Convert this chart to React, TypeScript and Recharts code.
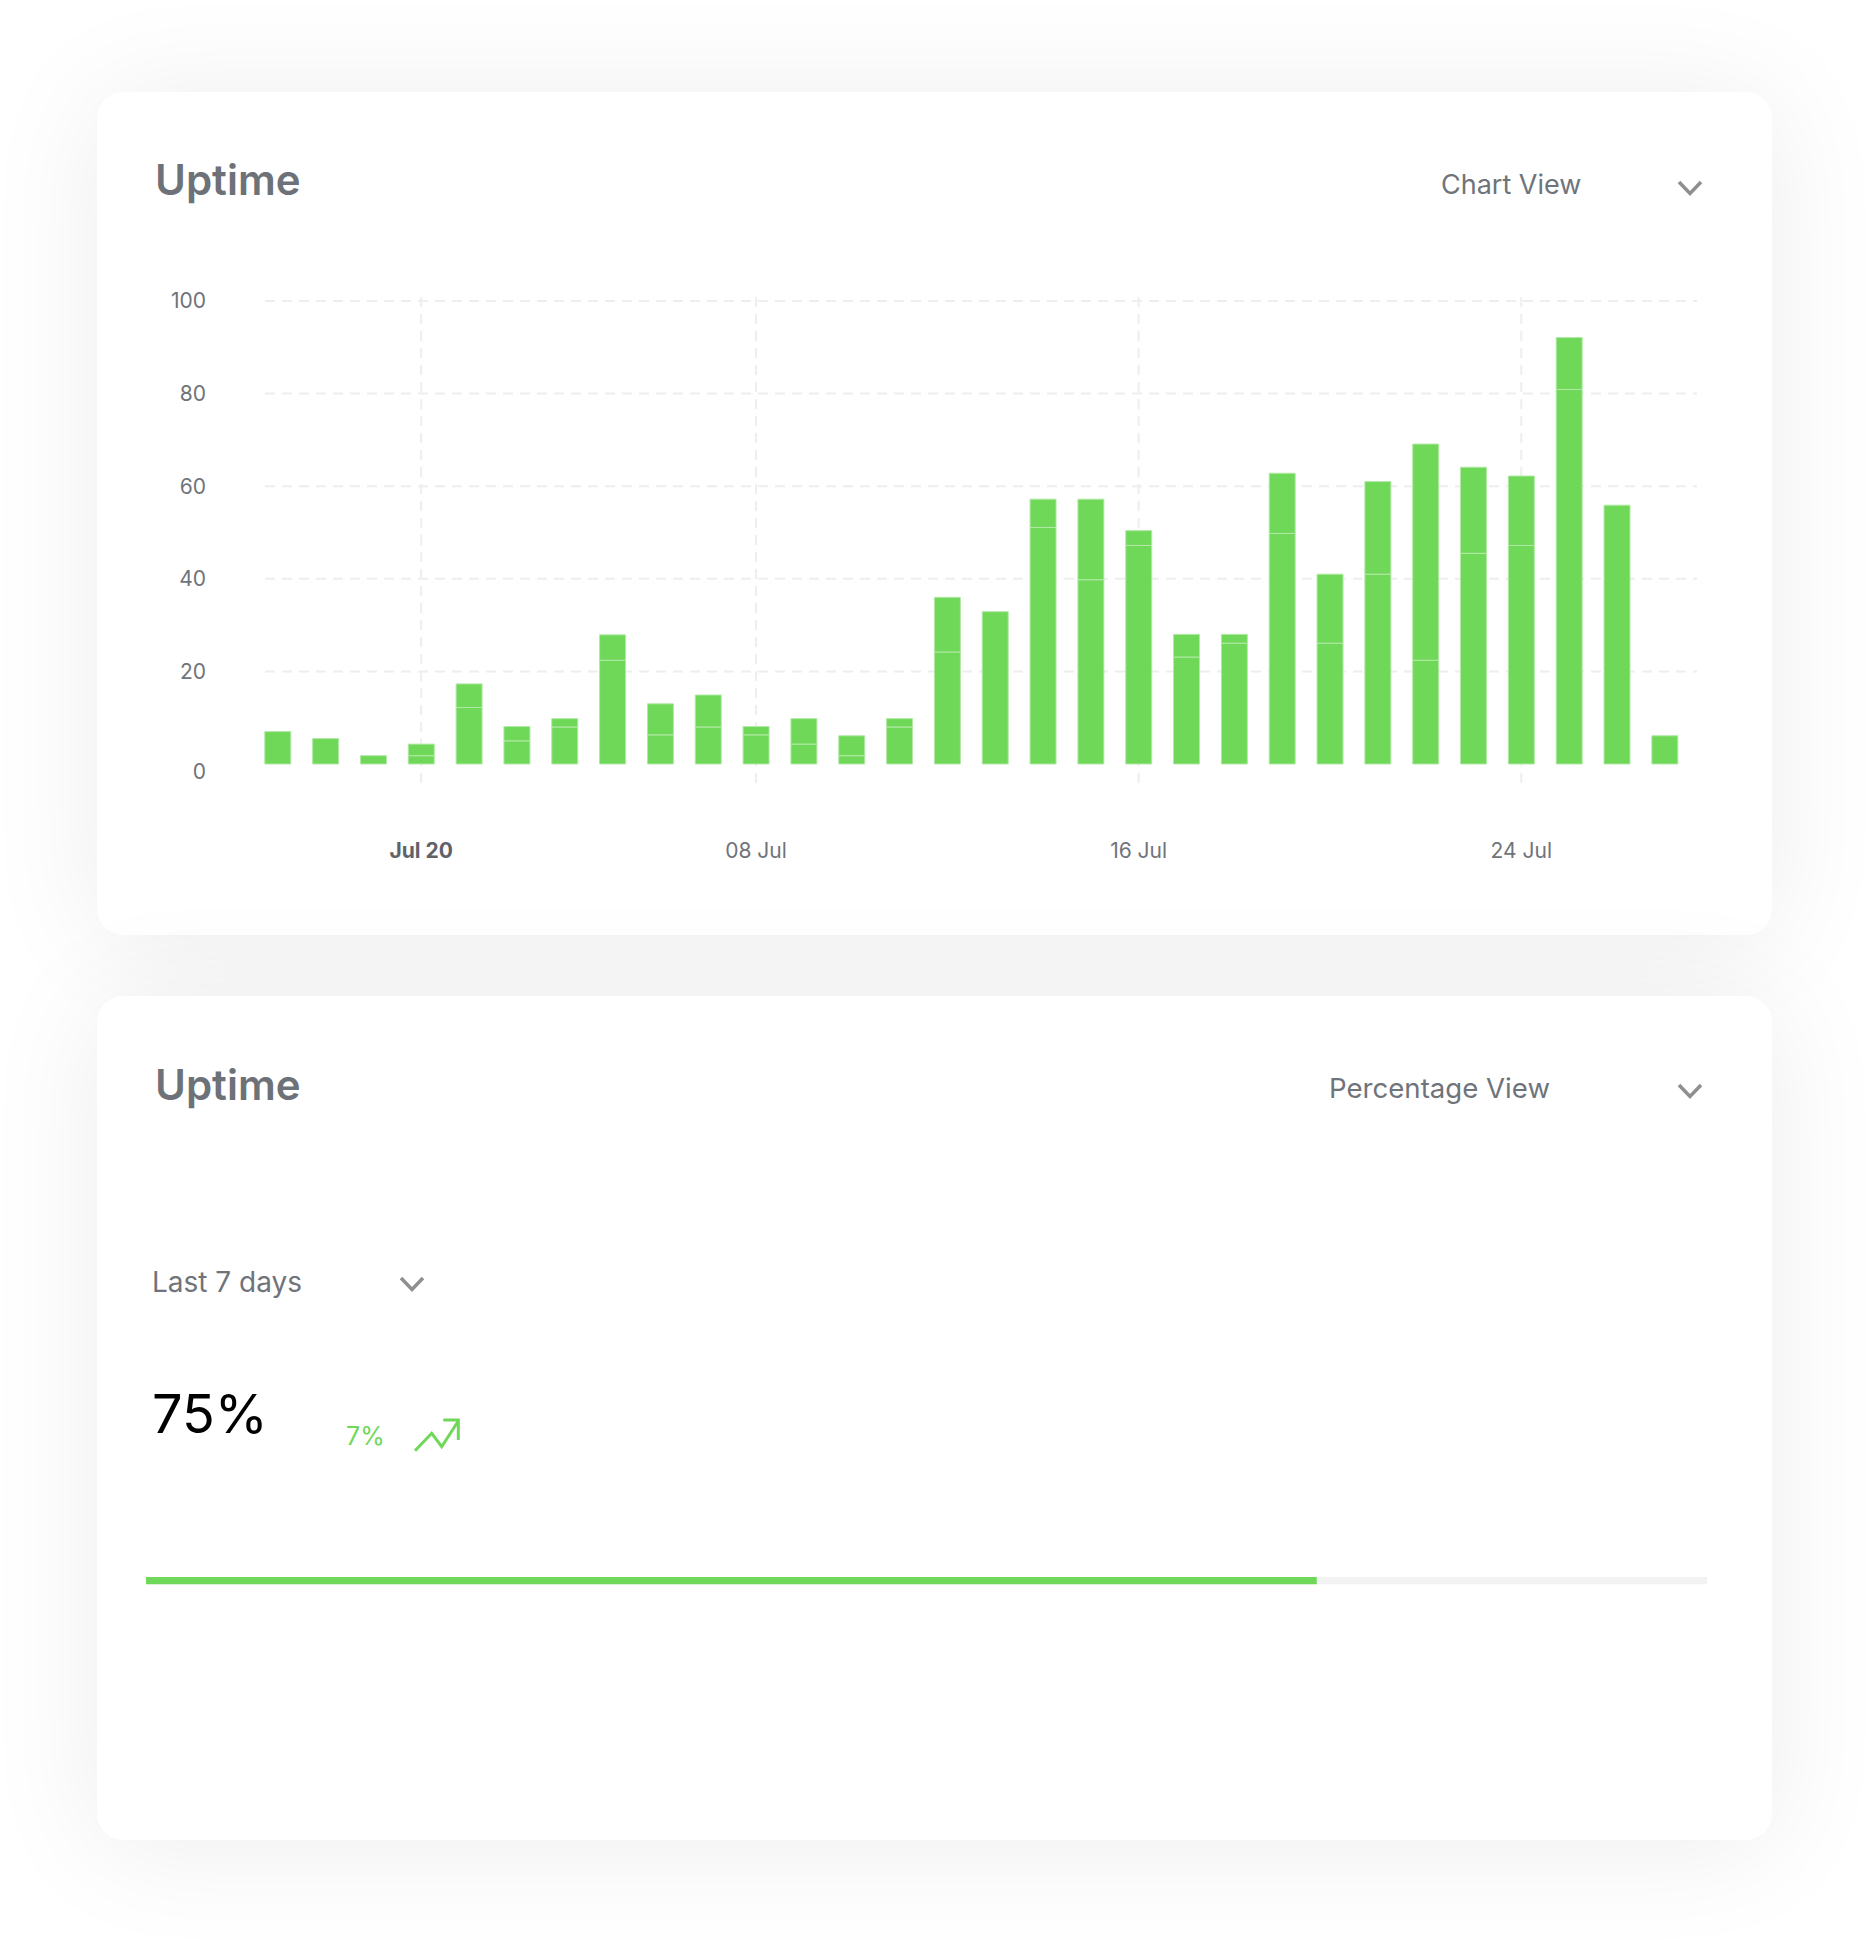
import React from "react";
import { BarChart, Bar, XAxis, YAxis, CartesianGrid } from "recharts";

// one bar per day, 28 Jun .. 27 Jul
const days = [
  "28 Jun", "29 Jun", "30 Jun", "01 Jul", "02 Jul", "03 Jul", "04 Jul", "05 Jul", "06 Jul", "07 Jul",
  "08 Jul", "09 Jul", "10 Jul", "11 Jul", "12 Jul", "13 Jul", "14 Jul", "15 Jul", "16 Jul", "17 Jul",
  "18 Jul", "19 Jul", "20 Jul", "21 Jul", "22 Jul", "23 Jul", "24 Jul", "25 Jul", "26 Jul", "27 Jul",
];
// each bar is two stacked segments
const lowerSegment = [
  7, 5.5, 1.8, 1.8, 12.2, 5, 8, 22.4, 6.3, 8,
  6.3, 4.3, 1.8, 8, 24.2, 32.9, 51.1, 39.8, 47.2, 23.1,
  26.1, 49.8, 26.1, 41, 22.4, 45.5, 47.2, 80.9, 55.9, 6.1,
];
const upperSegment = [
  0, 0, 0, 2.5, 5.1, 3.1, 1.8, 5.5, 6.7, 6.9,
  1.8, 5.5, 4.3, 1.8, 11.8, 0, 6.1, 17.4, 3.2, 4.9,
  1.9, 13, 14.9, 20, 46.7, 18.6, 15, 11.2, 0, 0,
];
const xTickDays = ["01 Jul", "08 Jul", "16 Jul", "24 Jul"];
const xTickLabels = ["Jul 20", "08 Jul", "16 Jul", "24 Jul"];
const yTicks = [0, 20, 40, 60, 80, 100];
const yGridValues = [20, 40, 60, 80, 100];

const uptimePercent = 75;
const uptimeChange = "7%";

const GREEN = "#6fd859";
const GRAY_TEXT = "#6d7178";
const FONT = "Inter, 'Noto Sans', sans-serif";

const chartData = days.map((d, i) => ({
  pos: i + 1,
  day: d,
  lower: lowerSegment[i],
  upper: upperSegment[i],
}));
const xTicks = xTickDays.map((d) => days.indexOf(d) + 1);

const progressData = [{ name: "uptime", value: uptimePercent }];

const YTick = ({ x, y, payload }: any) => (
  <text
    x={x}
    y={y + (payload.value === 0 ? 8 : 0)}
    dy="0.355em"
    textAnchor="end"
    fill="#6f737a"
    fontSize={21}
    fontFamily={FONT}
  >
    {payload.value}
  </text>
);

const XTick = ({ x, y, payload }: any) => {
  const idx = xTicks.indexOf(payload.value);
  const first = idx === 0;
  return (
    <text
      x={x}
      y={y}
      dy="0.71em"
      textAnchor="middle"
      fill={first ? "#5e6269" : "#6f737a"}
      fontWeight={first ? 700 : 400}
      fontSize={21}
      fontFamily={FONT}
    >
      {xTickLabels[idx]}
    </text>
  );
};

const cardStyle: React.CSSProperties = {
  position: "absolute",
  left: 96.5,
  width: 1675,
  height: 843.5,
  borderRadius: 26,
  background: "#fff",
  boxShadow: "0 6px 120px rgba(0,0,0,0.075)",
};

const Chevron = ({ x, y }: { x: number; y: number }) => (
  <polyline
    points={`${x},${y} ${x + 11},${y + 11.5} ${x + 22},${y}`}
    fill="none"
    stroke="#8f8f8f"
    strokeWidth={3.5}
  />
);

export default function App() {
  return (
    <div
      style={{
        position: "absolute",
        left: 0,
        top: 0,
        width: 1868,
        height: 1940,
        background: "#fff",
        overflow: "hidden",
        fontFamily: FONT,
      }}
    >
      <div style={{ ...cardStyle, top: 91.5 }} />
      <div style={{ ...cardStyle, top: 996 }} />

      <div style={{ position: "absolute", left: 100, top: 260 }}>
        <BarChart
          width={1660}
          height={640}
          data={chartData}
          margin={{ top: 37, right: 63, left: 105, bottom: 77 }}
        >
          <CartesianGrid
            stroke="#eeeeee"
            strokeWidth={2}
            strokeDasharray="10 7"
            horizontalValues={yGridValues}
            verticalValues={xTicks}
            syncWithTicks={false}
          />
          <XAxis
            dataKey="pos"
            type="number"
            domain={[0.7345, 30.674]}
            ticks={xTicks}
            interval={0}
            axisLine={false}
            tickLine={false}
            tickSize={6}
            tickMargin={54}
            height={40}
            tick={<XTick />}
          />
          <YAxis
            domain={[0, 100]}
            ticks={yTicks}
            width={60}
            axisLine={false}
            tickLine={false}
            tickSize={6}
            tickMargin={53}
            padding={{ top: 4, bottom: 19 }}
            tick={<YTick />}
          />
          <Bar dataKey="lower" stackId="a" fill={GREEN} stroke="#b2e9a6" strokeWidth={1} barSize={26} isAnimationActive={false} />
          <Bar dataKey="upper" stackId="a" fill={GREEN} stroke="#b2e9a6" strokeWidth={1} barSize={26} isAnimationActive={false} />
        </BarChart>
      </div>

      <div style={{ position: "absolute", left: 146, top: 1577 }}>
        <BarChart
          width={1561}
          height={8}
          data={progressData}
          layout="vertical"
          margin={{ top: 0, right: 0, left: 0, bottom: 0 }}
        >
          <XAxis type="number" domain={[0, 100]} hide />
          <YAxis type="category" dataKey="name" hide width={0} />
          <Bar dataKey="value" fill={GREEN} barSize={8} background={{ fill: "#f2f2f2" }} isAnimationActive={false} />
        </BarChart>
      </div>

      <svg
        width={1868}
        height={1940}
        style={{ position: "absolute", left: 0, top: 0, pointerEvents: "none" }}
        fontFamily={FONT}
      >
        <text x={155} y={195} fontSize={42} fontWeight={600} fill={GRAY_TEXT}>Uptime</text>
        <text x={1441} y={194} fontSize={27} fill="#6f737a">Chart View</text>
        <Chevron x={1679} y={182} />

        <text x={155} y={1100} fontSize={42} fontWeight={600} fill={GRAY_TEXT}>Uptime</text>
        <text x={1329} y={1098} fontSize={27.6} fill="#6f737a">Percentage View</text>
        <Chevron x={1679} y={1085} />

        <text x={152} y={1292} fontSize={28} fill="#6f737a">Last 7 days</text>
        <Chevron x={401} y={1278} />

        <text x={152} y={1433} fontSize={54} fill="#000">{uptimePercent}%</text>
        <text x={346} y={1445} fontSize={25} fill={GREEN}>{uptimeChange}</text>
        <polyline
          points="415,1450.7 431.7,1433.3 441.7,1446.7 458.3,1421"
          fill="none"
          stroke={GREEN}
          strokeWidth={3}
        />
        <polyline
          points="443.3,1420 458.3,1420 458.3,1440"
          fill="none"
          stroke={GREEN}
          strokeWidth={3}
        />
      </svg>
    </div>
  );
}
